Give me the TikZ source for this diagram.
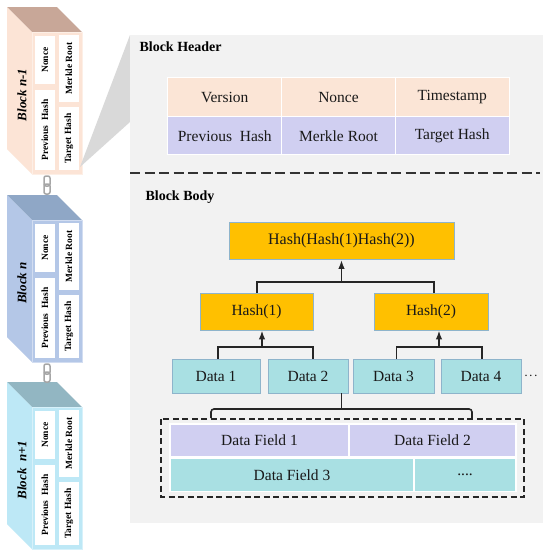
\documentclass[tikz,border=0pt]{standalone}
\usepackage{fontspec}
\setmainfont{Liberation Serif}
\usetikzlibrary{arrows.meta}

\definecolor{blkA}{HTML}{FCE4D6}
\definecolor{blkAtop}{HTML}{C8A798}
\definecolor{blkB}{HTML}{B4C7E7}
\definecolor{blkBtop}{HTML}{8FA7C6}
\definecolor{blkC}{HTML}{BDE8F6}
\definecolor{blkCtop}{HTML}{92B6C2}
\definecolor{panel}{HTML}{F2F2F2}
\definecolor{wedge}{HTML}{D9D9D9}
\definecolor{peach}{HTML}{FBE5D6}
\definecolor{lavender}{HTML}{D0CFF1}
\definecolor{gold}{HTML}{FFC000}
\definecolor{aqua}{HTML}{A9E0E3}
\definecolor{edgeblue}{HTML}{8EB4CB}
\definecolor{chain}{HTML}{A6A6A6}

\begin{document}
\begin{tikzpicture}[x=1pt,y=-1pt,
  txt/.style={font=\fontsize{15.5}{18}\selectfont, text=black!90},
  cell/.style={txt, draw=white, line width=1pt, inner sep=0pt, minimum width=113.7pt, minimum height=38.5pt},
  field/.style={txt, draw=white, line width=1.2pt, inner sep=0pt, minimum height=33pt},
  hashbox/.style={txt, draw=edgeblue, fill=gold, line width=0.8pt, inner sep=0pt, minimum height=37pt},
  databox/.style={txt, draw=edgeblue, fill=aqua, line width=0.8pt, inner sep=0pt, minimum height=34pt, minimum width=80pt},
  boxtext/.style={fill=white, rotate=90, inner sep=0pt, minimum height=20pt, font=\fontsize{9.5}{11}\selectfont\bfseries},
  tree/.style={line width=1.6pt, draw=black!85},
  tip/.style={tree, -{Latex[length=9pt,width=6.5pt]}},
  chainlink/.style={draw=chain, line width=1.5pt, rounded corners=2pt}]

\fill[white] (0,0) rectangle (550,555);

% chain of blocks
\foreach \yo/\c/\lab [count=\i] in {32/blkA/{Block n-1}, 220/blkB/{Block n}, 407/blkC/{Block~ n+1}}{
\begin{scope}[shift={(0,\yo)}]
\fill[\c top] (7,-25) -- (57,-25) -- (82,0) -- (32,0) -- cycle;
\fill[\c] (7,-25) -- (32,0) -- (32,142) -- (7,117) -- cycle;
\fill[\c, draw=white!40!\c] (32,0) rectangle (82,142);
\node[boxtext, minimum width=48pt] (nonce\i) at (45,28) {Nonce};
\node[boxtext, minimum width=80pt] (prev\i) at (45,98) {Previous~ Hash};
\node[boxtext, minimum width=67pt] (merkle\i) at (69,36.5) {Merkle Root};
\node[boxtext, minimum width=63pt] (target\i) at (69,106.5) {Target Hash};
\node[rotate=90, font=\fontsize{13}{15}\selectfont\bfseries\itshape] (label\i) at (22,63) {\lab};
\end{scope}
}

\draw[chainlink] (44,176) rectangle (50,186);
\draw[chainlink] (44,184) rectangle (50,194);
\draw[chainlink] (44,364) rectangle (50,374);
\draw[chainlink] (44,372) rectangle (50,382);

% zoom wedge and panel
\fill[wedge] (80,167) -- (130,35) -- (130,122) -- cycle;
\fill[panel] (130,35) rectangle (543,523);

% header
\node[anchor=west, font=\fontsize{14}{16}\selectfont\bfseries] (header) at (136,47) {Block Header};
\node[cell, fill=peach] (version) at (224.8,97.2) {Version};
\node[cell, fill=peach] (nonce) at (338.5,97.2) {Nonce};
\node[cell, fill=peach] (time) at (452.2,97.2) {Timestamp};
\node[cell, fill=lavender] (prevhash) at (224.8,135.7) {Previous~ Hash};
\node[cell, fill=lavender] (root) at (338.5,135.7) {Merkle Root};
\node[cell, fill=lavender] (target) at (452.2,135.7) {Target Hash};

\draw[line width=2pt, draw=black!80, dash pattern=on 10pt off 4.5pt] (130,173) -- (540,173);

% body
\node[anchor=west, font=\fontsize{14}{16}\selectfont\bfseries] (body) at (142,197) {Block Body};
\node[hashbox, minimum width=225pt, font=\fontsize{16}{18}\selectfont] (top) at (341.5,241) {Hash(Hash(1)Hash(2))};
\node[hashbox, minimum width=113pt] (h1) at (256.5,311.5) {Hash(1)};
\node[hashbox, minimum width=114pt] (h2) at (431,311.5) {Hash(2)};

\node[databox, minimum width=88pt] (d1) at (216,376) {Data 1};
\node[databox] (d2) at (308,376) {Data 2};
\node[databox, minimum width=81pt] (d3) at (393.5,376) {Data 3};
\node[databox] (d4) at (481,376) {Data 4};
\node[txt] (more) at (531,376) {$\cdot\!\cdot\!\cdot$};

\coordinate (j0) at (341.5,282);
\coordinate (j1) at (262,347);
\coordinate (j2) at (439,347);
\draw[tree] ([xshift=0.5pt]h1.north) |- (j0) -| ([xshift=3pt]h2.north);
\draw[tip] (j0) -- (top.south);
\draw[tree] ([xshift=2pt]d1.north) |- (j1) -| ([xshift=5pt]d2.north);
\draw[tip] (j1) -- (j1 |- h1.south);
\draw[tree] ([xshift=3pt]d3.north) |- (j2) -| ([xshift=1pt]d4.north);
\draw[tip] (j2) -- (j2 |- h2.south);

% data fields of one record
\coordinate (brace) at (341.5,409);
\draw[tree, rounded corners=3pt] (211,418) -- (211,409) -- (472,409) -- (472,418);
\draw[tree] (brace) -- (brace |- d2.south);
\draw[line width=1.6pt, draw=black!85, dash pattern=on 6pt off 3.5pt] (161,419) rectangle (524,497);

\node[field, fill=lavender, minimum width=179pt] (f1) at (259.5,440.5) {Data Field 1};
\node[field, fill=lavender, minimum width=167pt] (f2) at (432.5,440.5) {Data Field 2};
\node[field, fill=aqua, minimum width=244pt] (f3) at (292,475) {Data Field 3};
\node[field, fill=aqua, minimum width=102pt] (f4) at (465,475) {....};

\end{tikzpicture}
\end{document}
